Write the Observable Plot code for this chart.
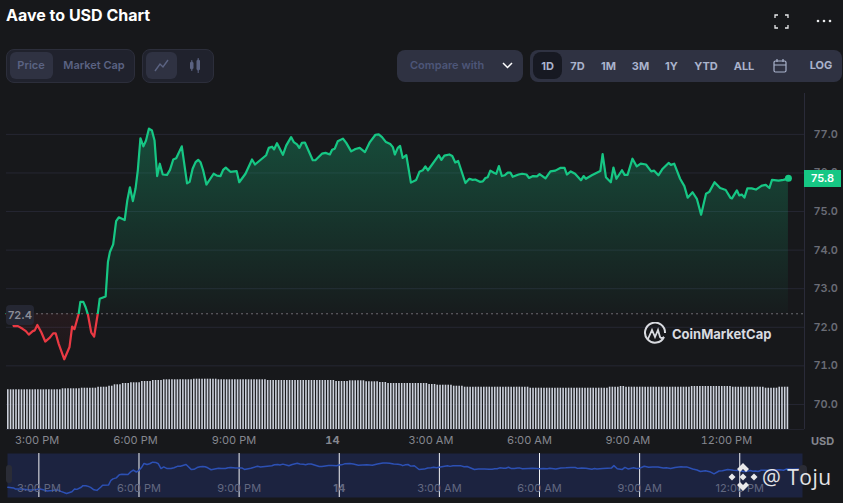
<!DOCTYPE html>
<html>
<head>
<meta charset="utf-8">
<script src="https://cdn.jsdelivr.net/npm/d3@7"></script>
<script src="https://cdn.jsdelivr.net/npm/@observablehq/plot@0.6"></script>
<style>
html,body{margin:0;padding:0;background:#17181b;overflow:hidden}
#stage{position:relative;width:843px;height:503px;font-family:Inter,sans-serif;overflow:hidden}
#stage>svg{position:absolute;left:0;top:0}
.ui{position:absolute;box-sizing:border-box}
.t{position:absolute;white-space:nowrap;font-size:11px;font-weight:600;line-height:14px;transform:translateX(-50%)}
.r{color:#aab3cc;font-weight:700;font-size:11px}
</style>
</head>
<body>
<div id="stage"></div>
<script>
// Hours after 3:00 PM on the 13th
const hours = [-0.93,-0.76,-0.71,-0.58,-0.44,-0.34,-0.25,-0.13,-0.07,0.01,0.13,0.25,0.39,0.49,0.57,0.66,0.83,0.99,1.07,1.14,1.27,1.32,1.41,1.48,1.55,1.65,1.74,1.85,1.91,2.09,2.16,2.22,2.32,2.41,2.49,2.67,2.75,2.83,2.92,3.00,3.07,3.15,3.24,3.32,3.41,3.50,3.58,3.66,3.74,3.83,3.96,4.05,4.15,4.24,4.41,4.57,4.65,4.74,4.83,4.91,4.98,5.06,5.16,5.38,5.48,5.59,5.67,5.75,5.89,6.08,6.16,6.35,6.55,6.64,6.98,7.06,7.16,7.22,7.31,7.49,7.59,7.74,7.82,7.92,7.99,8.07,8.16,8.40,8.48,8.68,8.79,8.92,8.99,9.07,9.16,9.32,9.42,9.57,9.70,9.83,9.99,10.14,10.31,10.41,10.51,10.63,10.76,10.84,10.90,10.99,11.06,11.14,11.25,11.39,11.55,11.65,11.75,11.83,11.91,12.24,12.32,12.41,12.56,12.65,12.74,12.83,13.05,13.17,13.27,13.35,13.49,13.58,13.66,13.73,13.81,13.93,13.99,14.07,14.16,14.25,14.34,14.42,14.49,14.67,14.78,14.91,14.99,15.11,15.23,15.31,15.49,15.64,15.79,15.94,16.07,16.14,16.26,16.39,16.57,16.65,16.72,16.90,17.16,17.23,17.33,17.48,17.56,17.65,17.82,17.90,17.99,18.14,18.27,18.39,18.55,18.71,18.80,18.93,19.06,19.24,19.31,19.41,19.59,19.72,19.82,19.97,20.10,20.23,20.38,20.48,20.64,20.81,20.98,21.12,21.17,21.32,21.39,21.47,21.55,21.64,21.77,21.90,22.08,22.20,22.31,22.39,22.59,22.74,22.89];
const prices = [72.35,72.22,72.03,72.03,71.96,71.90,71.81,71.90,71.92,72.06,71.87,71.63,71.73,71.84,71.84,71.57,71.17,71.49,72.02,71.95,72.35,72.66,72.66,72.52,72.33,71.87,71.76,72.35,72.74,72.80,73.69,73.95,74.15,74.75,74.85,74.78,75.29,75.63,75.27,75.59,76.07,76.90,76.69,76.84,77.15,77.10,76.84,75.92,76.24,75.96,75.95,76.08,76.35,76.38,76.69,75.73,75.77,76.11,76.28,76.34,76.28,76.07,75.70,75.98,75.93,75.92,76.08,76.14,76.03,76.05,75.76,75.98,76.35,76.22,76.46,76.65,76.68,76.61,76.77,76.47,76.71,76.93,76.80,76.74,76.65,76.78,76.79,76.33,76.33,76.50,76.52,76.48,76.60,76.63,76.82,76.89,76.78,76.56,76.62,76.65,76.54,76.80,76.99,77.00,76.93,76.80,76.75,76.67,76.48,76.65,76.70,76.39,76.46,75.75,75.82,76.03,76.07,76.17,76.07,76.46,76.34,76.45,76.48,76.44,76.27,76.31,75.74,75.85,75.82,75.83,75.77,75.78,75.87,75.89,76.06,76.00,75.98,76.18,75.92,75.94,76.01,76.01,75.90,75.96,75.98,75.96,75.87,75.92,75.91,75.97,75.86,76.04,76.06,76.13,76.13,75.96,76.04,75.98,75.81,75.92,75.85,75.94,76.05,76.49,75.89,75.76,76.14,75.85,76.07,75.95,75.95,76.37,76.17,76.24,76.22,76.04,76.06,75.94,76.11,76.26,76.21,76.24,75.85,75.66,75.36,75.50,75.33,74.92,75.46,75.51,75.76,75.61,75.56,75.36,75.34,75.55,75.42,75.44,75.36,75.60,75.60,75.57,75.67,75.69,75.61,75.82,75.80,75.82,75.86];
const openPrice = 72.35;
const openLabel = "72.4";
const lastLabel = "75.8";
const priceTicks = [70,71,72,73,74,75,76,77];
const tickHours = [0,3,6,9,12,15,18,21];
const tickLabels = ["3:00 PM","6:00 PM","9:00 PM","14","3:00 AM","6:00 AM","9:00 AM","12:00 PM"];
// Relative volume: [bar height, number of consecutive 5-minute bars]
const volumeRuns = [[39.7,20],[40.7,7],[41.3,6],[42.3,4],[43.3,2],[44.7,3],[46,3],[46.7,4],[48,4],[49,4],[49.7,11],[50.3,9],[49.7,18],[49,25],[48,5],[48.7,6],[47.7,5],[47,3],[46,15],[45,3],[44.3,6],[43.3,4],[42.3,24],[41.3,29],[42.3,4],[43,2],[42.3,24],[43,15],[42.3,12],[41.3,5],[42.3,4]];

const series = hours.map((h,i)=>({h,p:prices[i]}));
const volumes = volumeRuns.flatMap(([v,n])=>Array(n).fill(v)).map((v,i)=>({h:-0.93+i/12+0.04,v}));
const ticks = tickHours.map((h,i)=>({h,label:tickLabels[i]}));
const regularTicks = ticks.filter(d=>d.label!=="14");
const dayTicks = ticks.filter(d=>d.label==="14");
const labelOf = h => ticks.find(d=>d.h===h).label;
const GREEN="#16c784", RED="#ea3943";
const font = {fontFamily:"Inter, sans-serif",background:"transparent"};
const stage=document.getElementById("stage");
const xDomain=[-0.93,23.38];
const frame={width:843,height:503,marginLeft:6,marginRight:39,marginTop:93,marginBottom:74};

const main=Plot.plot({
  ...frame,style:font,
  x:{domain:xDomain,axis:null},
  y:{domain:[69.35,78.06],axis:null},
  marks:[
    Plot.ruleY(priceTicks,{stroke:"#262733",strokeWidth:1}),
    Plot.ruleX([xDomain[1]],{stroke:"#2a2b39"}),
    Plot.ruleY([69.35],{stroke:"#22232d"}),
    Plot.areaY(series,{x:"h",y1:openPrice,y2:"p",fill:"url(#areaGrad)",curve:"linear"}),
    Plot.ruleY([openPrice],{x1:0,x2:xDomain[1],stroke:"#b9bcc4",strokeDasharray:"1 4",strokeWidth:1}),
    Plot.line(series,{x:"h",y:"p",stroke:"url(#lineGrad)",strokeWidth:2.2,curve:"linear"}),
    Plot.dot(series.slice(-1),{x:"h",y:"p",r:3.5,fill:GREEN}),
    Plot.axisY(priceTicks,{anchor:"right",tickSize:0,tickPadding:9,label:null,fontSize:11,fontWeight:600,color:"#6a6c76",tickFormat:d=>d.toFixed(1)}),
    Plot.axisX(regularTicks.map(d=>d.h),{anchor:"bottom",tickSize:0,tickPadding:7,label:null,fontSize:11,color:"#85878f",tickFormat:labelOf}),
    Plot.axisX(dayTicks.map(d=>d.h),{anchor:"bottom",tickSize:0,tickPadding:7,label:null,fontSize:11,fontWeight:700,color:"#85878f",tickFormat:labelOf})
  ]
});
const yy=main.scale("y");
const defs=d3.select(main).append("defs");
const baseY=yy.apply(openPrice);
const lg=defs.append("linearGradient").attr("id","lineGrad").attr("gradientUnits","userSpaceOnUse").attr("x1",0).attr("x2",0).attr("y1",0).attr("y2",503);
[[0,GREEN],[baseY/503,GREEN],[baseY/503,RED],[1,RED]].forEach(([o,c])=>lg.append("stop").attr("offset",o).attr("stop-color",c));
const ag=defs.append("linearGradient").attr("id","areaGrad").attr("gradientUnits","userSpaceOnUse").attr("x1",0).attr("x2",0).attr("y1",yy.apply(77.15)).attr("y2",yy.apply(71.17));
const split=(baseY-yy.apply(77.15))/(yy.apply(71.17)-yy.apply(77.15));
[[0,GREEN,.3],[split,GREEN,.02],[split,RED,.07],[1,RED,.02]].forEach(([o,c,a])=>ag.append("stop").attr("offset",o).attr("stop-color",c).attr("stop-opacity",a));
stage.appendChild(main);

const vol=Plot.plot({
  ...frame,style:font,
  x:{domain:xDomain,axis:null},
  y:{domain:[0,336],axis:null},
  marks:[Plot.ruleX(volumes,{x:"h",y:"v",stroke:"#cdd2dd",strokeWidth:1.6})]
});
stage.appendChild(vol);

const over=Plot.plot({
  width:843,height:503,marginLeft:7,marginRight:41,marginTop:453,marginBottom:6,style:font,
  x:{domain:[-0.94,22.88],axis:null},
  y:{domain:[70.4,78.8],axis:null},
  marks:[
    Plot.frame({fill:"#1c2340",stroke:null}),
    Plot.ruleX(tickHours,{stroke:"#f2f3f5",strokeWidth:1}),
    Plot.line(series,{x:"h",y:"p",stroke:"#2c50b4",strokeWidth:1.5}),
    Plot.text(regularTicks,{x:"h",text:"label",frameAnchor:"bottom",dy:-6,fontSize:11,fill:"#626880"}),
    Plot.text(dayTicks,{x:"h",text:"label",frameAnchor:"bottom",dy:-6,fontSize:11,fontWeight:700,fill:"#626880"})
  ]
});
stage.appendChild(over);

const ui=`
<div class="ui" style="left:6px;top:5px;color:#fff;font-weight:700;font-size:16px;line-height:20px;white-space:nowrap">Aave to USD Chart</div>

<svg style="left:774px;top:14px" width="15" height="15" viewBox="0 0 15 15" fill="none" stroke="#e8e9ec" stroke-width="1.3"><path d="M1 4V1H4M11 1H14V4M14 11V14H11M4 14H1V11"/></svg>
<svg style="left:816px;top:18px" width="16" height="6" viewBox="0 0 16 6" fill="#e8e9ec"><circle cx="2" cy="3" r="1.3"/><circle cx="8" cy="3" r="1.3"/><circle cx="14" cy="3" r="1.3"/></svg>

<div class="ui" style="left:6px;top:49px;width:129px;height:34px;background:#20222d;border:1px solid #2c2e3b;border-radius:8px"></div>
<div class="ui" style="left:10px;top:52px;width:43px;height:27px;background:#2f3242;border-radius:6px"></div>
<div class="t" style="left:31px;top:58px;color:#5b6382">Price</div>
<div class="t" style="left:94px;top:58px;color:#5b6382">Market Cap</div>

<div class="ui" style="left:142px;top:49px;width:72px;height:34px;background:#20222d;border:1px solid #2c2e3b;border-radius:8px"></div>
<div class="ui" style="left:146px;top:52px;width:31px;height:27px;background:#2f3242;border-radius:6px"></div>
<svg style="left:154px;top:58px" width="15" height="14" viewBox="0 0 15 14" fill="none" stroke="#5b6382" stroke-width="1.4"><path d="M1 13L6 6L9 9L14 2"/></svg>
<svg style="left:189px;top:58px" width="13" height="15" viewBox="0 0 13 15" fill="#5b6382" stroke="#5b6382"><rect x="1.500" y="4" width="2.500" height="7" rx="1"/><rect x="8" y="2" width="2.500" height="10" rx="1"/><path d="M9.200 0V15M2.800 2V13" stroke-width="1"/></svg>

<div class="ui" style="left:397px;top:50px;width:126px;height:32px;background:#2f3242;border-radius:8px"></div>
<div class="ui" style="left:410px;top:58px;color:#4d5678;font-size:11px;font-weight:600;line-height:14px;white-space:nowrap">Compare with</div>
<svg style="left:502px;top:62px" width="11" height="7" viewBox="0 0 11 7" fill="none" stroke="#fff" stroke-width="1.5"><path d="M1 1L5.500 5.500L10 1"/></svg>

<div class="ui" style="left:530px;top:50px;width:312px;height:32px;background:#2f3242;border-radius:8px"></div>
<div class="ui" style="left:533px;top:52px;width:29px;height:27px;background:#171922;border-radius:8px"></div>
<div class="t r" style="left:547.5px;top:59px">1D</div>
<div class="t r" style="left:577.5px;top:59px">7D</div>
<div class="t r" style="left:608.5px;top:59px">1M</div>
<div class="t r" style="left:640.5px;top:59px">3M</div>
<div class="t r" style="left:671.5px;top:59px">1Y</div>
<div class="t r" style="left:706px;top:59px">YTD</div>
<div class="t r" style="left:744px;top:59px">ALL</div>
<svg style="left:773px;top:59px" width="14" height="14" viewBox="0 0 14 14" fill="none" stroke="#aab3cc" stroke-width="1.2"><rect x="1" y="2" width="12" height="11" rx="1.5"/><path d="M1 6H13M4 0V3M10 0V3"/></svg>
<div class="t r" style="left:821px;top:58px">LOG</div>

<div class="ui" style="left:6px;top:305px;width:28px;height:20px;background:#252733;border-radius:4px;color:#8b8d97;font-size:11px;font-weight:600;line-height:20px;text-align:center">${openLabel}</div>
<div class="ui" style="left:804px;top:170px;width:37px;height:17px;background:${GREEN};color:#fff;font-size:11px;font-weight:600;line-height:17px;text-align:center">${lastLabel}</div>
<div class="ui" style="left:811px;top:434px;color:#85878f;font-size:11px;font-weight:700;line-height:14px">USD</div>

<svg style="left:643px;top:322px" width="24" height="24" viewBox="0 0 24 24" fill="none" stroke="#d9dbe0" stroke-width="2"><path d="M21 15A10 10 0 1 1 22 11"/><path d="M5 17L9 8L12 15L15 8L17 15Q18 17 21 15" stroke-width="1.800"/></svg>
<div class="ui" style="left:672px;top:326px;color:#d9dbe0;font-size:13px;font-weight:700;line-height:17px;white-space:nowrap">CoinMarketCap</div>

<div class="ui" style="left:6px;top:465px;width:6px;height:18px;background:#2a2c36;border-radius:3px"></div>
<div class="ui" style="left:799px;top:465px;width:8px;height:18px;background:#2a2c36;border-radius:4px"></div>

<svg style="left:728px;top:462px" width="30" height="30" viewBox="0 0 30 30" fill="#e9e9ea"><path d="M15 1L21 7L18 10L15 7L12 10L9 7Z"/><path d="M15 29L21 23L18 20L15 23L12 20L9 23Z"/><path d="M4 11.500L7.500 15L4 18.500L0.500 15Z"/><path d="M26 11.500L29.500 15L26 18.500L22.500 15Z"/><path d="M15 11.500L18.500 15L15 18.500L11.500 15Z"/></svg>
<div class="ui" style="left:762px;top:463px;color:#e4e4e6;font-family:'Open Sans',sans-serif;font-size:21px;line-height:28px;letter-spacing:.5px;white-space:nowrap">@ Toju</div>
`;
stage.insertAdjacentHTML("beforeend",ui);
</script>
</body>
</html>
